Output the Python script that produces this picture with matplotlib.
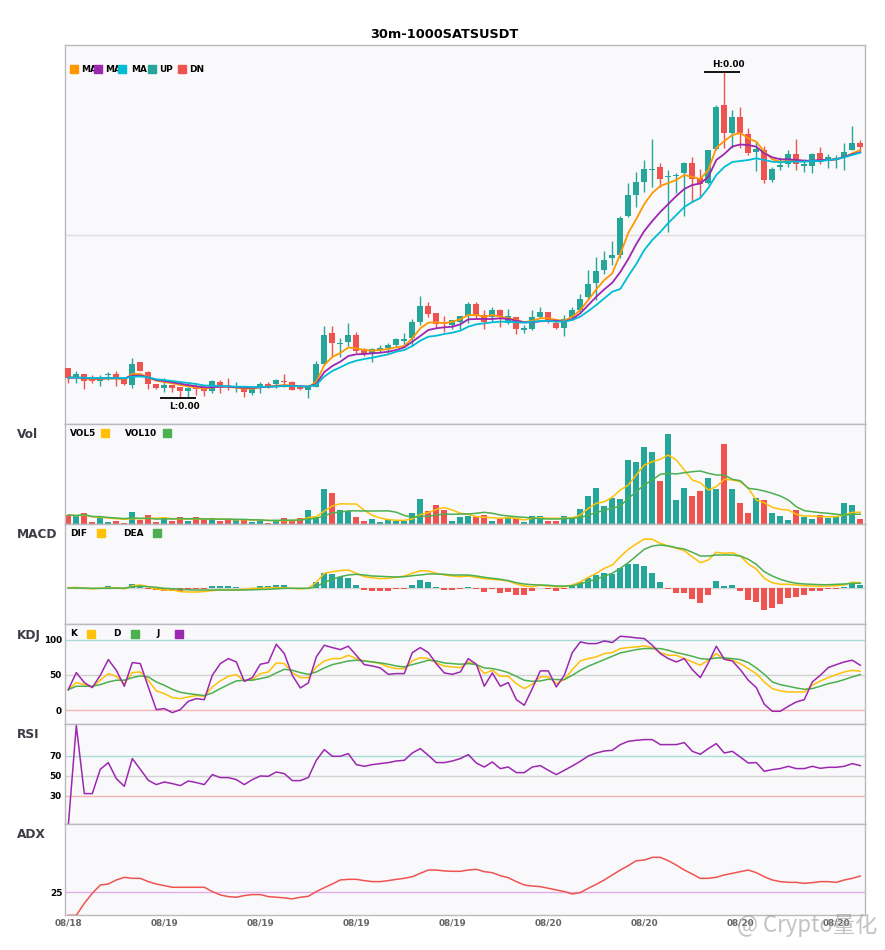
import numpy as np
import matplotlib
matplotlib.use("Agg")
import matplotlib.pyplot as plt
from matplotlib.patches import Rectangle

# ---------------------------------------------------------------------------
# values (price in 1e-6 USDT, volume / indicators in chart units)
title = "30m-1000SATSUSDT"
time_labels = ["08/18", "08/19", "08/19", "08/19", "08/19", "08/20", "08/20", "08/20", "08/20"]
label_step = 12

opens = [56, 46.3, 50, 44.7, 42.7, 49.3, 50, 44.7, 39.3, 62,
         52, 40, 36.3, 39, 37, 33.3, 38, 36.7, 33.3, 42,
         39, 36.7, 36.3, 30.7, 36.3, 39.7, 40, 43.3, 42, 38,
         34, 37.3, 60, 91, 79.7, 82.3, 89, 74.7, 70.7, 74,
         75.7, 79.3, 83.3, 86.3, 102, 118.3, 111.3, 101.3, 99, 102.3,
         108, 120, 109, 107.3, 114, 100.7, 106.7, 94, 95, 106.7,
         112, 101.3, 95.7, 106.7, 114, 127.3, 141.3, 154, 166.3, 169,
         208, 229, 242, 254, 257, 246.7, 247.7, 251.3, 261.3, 245.7,
         241.3, 274.7, 319, 291.3, 307.3, 290, 272.3, 274, 244, 257.3,
         259.7, 270, 258, 258.3, 271.3, 263, 265.3, 267.3, 274, 281.3]
closes = [46.3, 50, 42.7, 42.7, 46.7, 50, 44.7, 40.3, 60, 53.3,
          40.3, 36.3, 39, 36.3, 33.3, 36.3, 35.3, 33.3, 43.3, 37.3,
          37.3, 38, 31.7, 35.3, 39.7, 38.3, 44, 42.3, 34, 35,
          37.7, 60, 89, 81.3, 81, 89, 73, 70, 74.7, 75.7,
          79, 85, 84.7, 102, 118.3, 109.7, 100, 99.7, 104, 108.3,
          120, 108, 102.3, 114, 106.7, 108, 95, 96, 106.7, 112,
          102.3, 95.7, 104.7, 114, 125, 140, 153, 164, 169, 206.3,
          229, 242, 255, 255.3, 245.3, 248, 249, 261.3, 245.3, 240,
          274, 317.3, 290.7, 307.3, 291.3, 270.7, 275, 244, 255, 259,
          270, 259.7, 259.7, 270, 262.3, 266.7, 266.3, 272.3, 281.3, 277.3]
highs = [56, 53, 50, 48.7, 48.7, 51.7, 53, 44.7, 66, 62,
         53, 40, 45.7, 39, 37, 37.3, 39, 39, 44, 44,
         45.7, 42, 38, 37.3, 41.7, 42.3, 45.3, 49.7, 43.3, 39,
         39, 63.3, 98.3, 98, 85.7, 101.3, 92, 76.3, 75.7, 78.7,
         81.3, 86.3, 91.3, 104.7, 128, 122, 111.3, 108, 104, 108.3,
         122.3, 121.7, 114, 116.7, 115, 115, 107.3, 99, 114, 117,
         112, 104.7, 109, 117.3, 130, 154, 167, 173.3, 183.3, 208,
         240.7, 252, 264, 285, 260.7, 254, 251.3, 262.3, 266.7, 255,
         274, 319, 352.3, 314, 317.3, 295.7, 282.3, 278, 257.3, 266.7,
         274, 285, 264.7, 271.3, 277.3, 270, 269, 281.3, 298, 284]
lows = [41.3, 41.3, 35.3, 41.3, 38, 44, 38, 39, 36.3, 53,
        35.3, 35.3, 32.3, 32.3, 26.3, 26.3, 29.3, 28.3, 30.7, 30.7,
        34, 32.3, 26.7, 28.7, 30.7, 35.7, 35.7, 37.3, 34, 34,
        26.3, 36.7, 59, 68, 67.3, 78, 70.7, 68, 62.3, 70.7,
        71.3, 77.3, 77.3, 78, 99, 107.3, 95.7, 92.3, 94.7, 94,
        100.7, 105.7, 95, 101.7, 97.3, 100, 90, 91.3, 94, 105.7,
        101, 94.7, 88.3, 104, 112.3, 124, 124, 150, 159, 166,
        207.3, 217.3, 232.3, 237.3, 237.3, 192.3, 230.7, 208, 222.3, 225.7,
        240, 274, 275.7, 275.7, 275.7, 269, 253, 240.7, 241.7, 254,
        256.7, 254, 252.3, 251.3, 260, 255.7, 256.3, 254, 274, 273.3]

ma5 = [46.3, 46.5, 45.7, 44.7, 45, 45.5, 45.5, 44.7, 50, 50,
       46.7, 43.3, 42, 40.7, 39, 37.7, 36.5, 35.3, 36.7, 37.3,
       37.3, 36.3, 35.3, 35.3, 36.7, 37.3, 38.3, 39, 38.3, 37.7,
       37.3, 42, 59, 67, 71, 76.5, 75.7, 74, 73.3, 74,
       75, 76.7, 78, 85.7, 95.7, 101.3, 101.7, 100.7, 102.3, 104.7,
       109, 109, 107.3, 109, 107.3, 105.7, 104, 101.7, 103.3, 105.7,
       105.7, 104, 103.3, 107.3, 114, 124, 134.7, 144, 150.7, 170,
       191, 205, 220, 231, 238, 241, 244, 249, 247, 245,
       254, 276, 283, 289, 291, 285.7, 282.3, 272.3, 264.7, 262.3,
       263, 264, 263, 263, 264, 264, 264.7, 266.7, 270.7, 274]
ma10 = [46.3, 46.5, 46, 45.5, 45.5, 45.7, 45.7, 45.5, 48.3, 48.5,
        46.7, 44, 43, 41.7, 40.3, 39, 37.7, 36.7, 36.7, 37.3,
        37.3, 36.8, 36.3, 36.3, 36.7, 37.3, 37.7, 38.3, 38, 37.7,
        37.3, 40, 52, 58, 62.3, 68, 69.7, 70, 70.7, 71.3,
        72.3, 74, 76.7, 82.3, 88, 94, 95.7, 96.7, 97.3, 99.7,
        104.7, 105, 105, 105, 105.7, 105, 103.3, 101.7, 101.7, 102.7,
        103.3, 103.3, 102.3, 105, 110.7, 119, 127.3, 134.7, 141.3, 152,
        165, 180, 193, 203, 212, 220, 228, 235, 239, 240.5,
        247, 264, 270, 277.5, 279.5, 279, 277.3, 270.7, 266.7, 264.7,
        264.7, 264, 263.3, 263.3, 264, 264, 264.7, 267.3, 269.7, 271.7]
ma20 = [46.3, 46.5, 46.3, 46, 46, 46, 46, 45.8, 47.3, 47.5,
        46.7, 44.7, 44, 43, 42, 41, 40, 38.5, 38.3, 38,
        37.8, 37.3, 37.3, 37, 37, 37.3, 37.5, 38, 38, 37.7,
        37.5, 39, 47.5, 53, 56.7, 60.7, 63.3, 65, 66.3, 68,
        69.7, 72.3, 74, 78, 83.3, 87.3, 88.3, 90, 91.3, 93.3,
        97.3, 99.7, 100.7, 101.7, 102.3, 102.3, 101.7, 101.3, 102.3, 103,
        103, 102.3, 102.3, 104, 107.3, 113, 119, 125.7, 132.3, 135,
        148, 160, 174, 184, 192, 201, 209, 217, 222, 226,
        236, 249, 257, 262, 263, 264, 265.7, 264, 262.3, 261.7,
        262.3, 262.3, 262.3, 263, 262.7, 264, 264.7, 266.7, 269, 271.3]

volume = [9.3, 8.3, 11.3, 2.3, 7.3, 2.3, 3.3, 1.3, 12.3, 4.3,
          9.3, 2.3, 5.3, 3.3, 7.3, 3.3, 7.3, 5.3, 5.3, 3.3,
          4.3, 5.3, 4.3, 2.3, 4.3, 1.3, 3.3, 6.3, 3.3, 6.3,
          14.3, 7.3, 35.3, 31.3, 14.3, 13.3, 7.3, 3.3, 5.3, 2.3,
          5.3, 3.3, 3.3, 11.3, 25.3, 13.3, 19.3, 14.3, 3.3, 7.3,
          8.3, 7.3, 9.3, 3.3, 5.3, 7.3, 6.3, 2.3, 8.3, 8.3,
          3.3, 3.3, 8.3, 6.3, 15.3, 28.3, 36.3, 18.3, 26.3, 25.3,
          64.3, 62.3, 77.3, 72.3, 43.3, 90.3, 24.3, 36.3, 28.3, 33.3,
          46.3, 35.3, 80.3, 35.3, 21.3, 11.3, 26.3, 24.3, 11.3, 8.3,
          4.3, 14.3, 7.3, 5.3, 9.3, 6.3, 8.3, 21.3, 19.3, 5.3]
vol5 = [9.3, 8.6, 9.3, 7.5, 7, 6.3, 5.6, 5, 5.7, 5.5,
        6, 6, 6.6, 5.5, 5.5, 5.2, 5.5, 5.3, 5.5, 5.2,
        5, 4.5, 4.6, 4.3, 4.2, 3.8, 3.6, 3.6, 3.7, 4.5,
        6.7, 7.6, 13.2, 18.3, 20.5, 20.3, 20.3, 14, 9, 6.3,
        4.7, 4, 4, 5.3, 9.7, 11.7, 14.9, 16.7, 14.3, 11,
        10, 7.6, 7, 6.6, 6, 6.6, 6, 4.3, 6, 6.6,
        6, 6, 6, 6.6, 9.3, 16, 21, 22.6, 27, 34.3,
        39.3, 49.3, 59.3, 62.6, 65, 69.3, 64.3, 54.3, 44.3, 41.6,
        34.3, 37.6, 45, 44.3, 42.6, 36, 24.3, 21.6, 17, 15,
        14.3, 10, 8.3, 8.3, 7.6, 7.6, 7.6, 9.3, 12, 12]
vol10 = [9.3, 8.8, 9.6, 7.8, 7.7, 6.8, 6.3, 5.7, 6.3, 6,
         6, 5.2, 5.5, 5.3, 5.8, 5.4, 5.7, 5.3, 5.4, 5.1,
         5.2, 5, 4.9, 4.5, 4.4, 3.9, 3.9, 4.2, 4.1, 4.3,
         5.3, 5.9, 8.7, 11.3, 12.3, 13.4, 13.5, 13.3, 13.3, 13.4,
         13.4, 12.1, 8.9, 6.9, 8, 8, 9.2, 10.3, 10, 10.3,
         10.3, 11, 12, 11, 9.3, 8.3, 7.6, 7, 6.3, 5.6,
         5.3, 5.3, 5.6, 6, 6.6, 9.3, 11.6, 14.3, 16, 18.3,
         26, 32.6, 39.3, 44.3, 50, 51, 50.3, 51.6, 52.6, 53.3,
         51, 49.3, 49.3, 45, 43.6, 36, 35, 33.3, 31, 28.3,
         24.3, 17.6, 13.6, 12.6, 11.6, 11, 10, 9.3, 10, 10]

macd_hist = [0.2, 0.3, 0, -0.3, 0.3, 2.3, 1.3, 0.2, 4.3, 3.3,
             -0.5, -2, -2.3, -2.3, -2.3, -1, -1, -1, 2.3, 2.3,
             2.3, 1.3, 0.3, 0.3, 2.3, 2.3, 3.3, 3.3, 0.3, 0.2,
             0.3, 6.3, 15.3, 14.3, 11.3, 10.3, 3.3, -2, -2.3, -2.3,
             -2.3, -1, -1, 3.3, 8.3, 6.3, 1.3, -1.7, -2, -1,
             1.3, -1, -3.3, -1, -4.3, -3.7, -6.3, -6.3, -2.3, 0.2,
             -1, -2.3, -0.7, 2.3, 6.3, 10.3, 13.3, 15.3, 14.3, 20.3,
             24.3, 24.3, 22.3, 15.3, 6.3, -0.7, -4.3, -4.3, -10.3, -14.3,
             -6.3, 7.3, 2.3, 3.3, -2.3, -11.3, -13.3, -21.3, -19.3, -15.3,
             -9.3, -8.3, -6.3, -2.3, -2.3, -0.7, -0.7, 1.3, 4.3, 3.3]
dif = [0.6, 0.9, 0, -0.6, 0, 0.6, 0.6, -0.6, 2.6, 3.3,
       1.6, -0.6, -1.7, -1.7, -3.3, -3.7, -3.7, -3.3, -2.3, -1.7,
       -1.7, -1.7, -1, 0, 0, 0.6, 0.6, 0.6, 0, -0.6,
       0, 6, 15, 16.6, 17.6, 18.3, 15, 11.6, 10.6, 9.6,
       10, 11, 12.3, 15, 17.6, 17.3, 15, 13.3, 12.3, 11.6,
       12.3, 11, 9.6, 9, 8.3, 7.3, 4.3, 2.3, 1.6, 3,
       2.3, 1.6, 1.6, 3.3, 6.3, 11, 15, 20, 23.3, 31.6,
       39, 44.3, 49.3, 49, 45, 42.3, 40, 37.6, 31.6, 25.6,
       28.3, 36, 35, 35.6, 32.3, 24.3, 19.3, 10, 5.6, 4,
       4, 3.3, 2.6, 2.3, 2, 2.3, 2.6, 3.3, 6, 5.6]
dea = [0.3, 0.3, 0.2, 0, 0, 0, 0.2, 0.2, 1.5, 2.2,
       1.6, 1, 0, -0.5, -1, -1.5, -1.7, -1.7, -1.7, -1.7,
       -1.7, -1.7, -1.7, -1.5, -1.2, -1, -0.5, 0, 0, 0,
       0, 1.6, 6, 9, 11.6, 13.3, 14, 13.3, 12.3, 12,
       11.6, 11.3, 11.6, 12.6, 13.3, 14.3, 14.3, 14, 13.3, 13.3,
       13.3, 12.3, 11, 10, 9, 7.6, 5.6, 4.3, 3.6, 3.3,
       3, 2.3, 2.3, 2.6, 4.3, 7, 9, 12.3, 15, 20,
       25.6, 32.3, 39, 42.3, 43.3, 42.3, 40.6, 39.3, 36, 32.3,
       32.3, 33.3, 33.3, 33.3, 32.3, 29, 24, 16.6, 12.3, 9,
       6.6, 5, 4.3, 4, 3.6, 3.6, 4, 4.3, 5, 5]

k_line = [29.2, 39.2, 36.3, 33, 42.5, 51.9, 48.1, 37.7, 53.3, 54.2,
          42.5, 27.4, 23.6, 17.9, 16.5, 18.9, 20.8, 19.8, 33, 41.5,
          48.1, 50.5, 41.5, 43.4, 51.9, 54.2, 67, 66, 53.3, 46.2,
          46.2, 61.3, 69.8, 73.1, 73.1, 77.8, 73.1, 69.8, 68.4, 66,
          61.3, 59, 59, 69.8, 74.5, 73.1, 67, 62.7, 61.3, 60.4,
          68.4, 65.1, 51.9, 56.6, 48.1, 48.1, 37.7, 30.7, 36.8, 47.2,
          47.2, 37.7, 43.4, 57.5, 69.8, 73.1, 75.5, 80.2, 81.6, 87.3,
          88.7, 89.6, 91, 88.7, 81.6, 77.8, 77.8, 73.1, 68.4, 63.7,
          70.8, 80.2, 72.2, 70.8, 66, 59, 51.9, 40.1, 30.7, 27.4,
          25.9, 25.9, 25.9, 35.4, 41.5, 46.2, 50.5, 54.2, 56.6, 55.2]
d_line = [29.2, 34, 34, 34, 36.3, 40.1, 42.5, 42.5, 46.2, 48.6,
          47.2, 40.1, 35.4, 29.7, 25.5, 23.6, 22.2, 20.8, 24.5, 30.7,
          36.3, 41.5, 42.5, 42.5, 44.8, 47.2, 52.8, 58, 56.6, 53.3,
          50.9, 54.2, 59.9, 64.6, 67, 69.8, 70.8, 69.8, 68.4, 67,
          65.1, 62.7, 61.3, 64.6, 67.5, 70.8, 69.8, 67, 66, 65.1,
          66, 64.6, 59.9, 59, 56.6, 53.3, 48.1, 42.5, 41, 41.5,
          43.9, 43.4, 43.4, 49.5, 56.6, 62.3, 67, 71.7, 76.4, 81.1,
          83.5, 85.8, 87.3, 87.3, 87.3, 84.9, 81.6, 79.2, 76.4, 73.1,
          72.2, 74.1, 74.1, 73.1, 71.7, 67.5, 59.9, 50.9, 40.1, 36.3,
          34, 31.6, 29.7, 30.7, 34, 37.7, 40.1, 43.4, 47.2, 50.5]
j_line = [29.2, 53.3, 39.2, 32.1, 49.5, 71.7, 56.6, 34, 67.5, 66,
          33, 0.9, 2.4, -3.3, 0.9, 12.7, 16.5, 15.1, 49.5, 66,
          73.1, 68.4, 41, 46.2, 65.1, 67.5, 93.4, 80.2, 49.5, 31.6,
          38.7, 75.5, 92, 88.7, 85.8, 90.6, 77.8, 64.6, 62.7, 59.9,
          50.9, 51.9, 51.9, 81.6, 88.7, 81.6, 66, 52.8, 50.9, 54.2,
          73.1, 65.1, 34, 52.8, 34, 39.2, 15.1, 7.1, 30.7, 55.7,
          55.7, 33, 49.5, 81.6, 96.7, 94.3, 94.3, 98.1, 95.8, 104.7,
          103.8, 102.4, 101.4, 92, 80.2, 73.1, 68.4, 73.1, 57.5, 46.2,
          67, 90.6, 72.2, 69.8, 57.5, 42.5, 32.1, 8.5, -1.4, -1.4,
          5.7, 11.8, 15.1, 40.1, 49.5, 60.4, 64.6, 68.4, 70.8, 63.7]

rsi = [0, 100, 32, 32, 56.3, 63, 47, 39.3, 67, 56.3,
       45.3, 41, 43.6, 42, 40, 44.6, 43, 41, 51, 48,
       48, 46, 41, 46, 49.6, 49.3, 53.6, 52, 45, 45,
       48, 65.3, 76, 69.3, 69.3, 72, 61, 59.3, 61, 62,
       63, 64.6, 65.3, 72.6, 77, 70.3, 63, 63, 64.6, 67,
       71, 62.6, 58.6, 63.6, 57, 58.6, 53, 53, 58.6, 60,
       55.3, 51, 55.3, 59.6, 64.3, 69.6, 72.6, 74.6, 75.3, 81,
       84.3, 85.3, 86, 86, 81, 81, 81, 83, 74.3, 71.3,
       77, 82, 72.6, 74.3, 68.6, 62.6, 63, 54.3, 56, 57,
       59.3, 57, 57, 59.3, 57.3, 58.3, 58.3, 59.3, 62, 60]

adx = [0, 0, 13.1, 24.1, 33.2, 34.3, 38.7, 41.6, 40.5, 40.5,
       36.9, 34.3, 32.5, 30.7, 30.7, 30.7, 30.7, 30.7, 26, 22.3,
       20.5, 19.8, 21.6, 22.7, 22.7, 20.5, 19.8, 19.1, 18, 19.8,
       20.8, 26, 30.3, 34.3, 38.7, 39.4, 39.4, 38, 36.9, 36.9,
       38, 39.4, 40.5, 42.3, 46, 49.6, 49.6, 48.6, 48.2, 48.2,
       49.6, 50.4, 47.8, 46.7, 43.4, 41.2, 36.9, 33.2, 32.1, 31.4,
       29.6, 27.8, 26, 23.4, 24.9, 29.6, 34, 38.7, 44.2, 49.6,
       54.4, 59.8, 60.5, 63.5, 63.5, 59.8, 55, 49.6, 45.2, 40.5,
       40.5, 41.6, 44.2, 46, 47.8, 49.6, 46.7, 42.3, 38.7, 36.9,
       36.1, 36.1, 35, 35.8, 36.9, 36.9, 36.1, 38.7, 40.5, 43]

# ---------------------------------------------------------------------------
UP, DN = "#26a69a", "#ef5350"
C_MA5, C_MA10, C_MA20 = "#ff9800", "#9c27b0", "#00bcd4"
C_Y, C_G, C_P = "#ffc107", "#4caf50", "#9c27b0"
BG = "#f9f9fb"
W, H = 885, 950

o = np.array(opens); c = np.array(closes)
hi = np.array(highs); lo = np.array(lows)
x = np.arange(len(o))
up = c >= o
candle_col = np.where(up, UP, DN)


def box(top, bottom):
    return [65.3 / W, 1 - bottom / H, 800 / W, (bottom - top) / H]


def fx(px):
    return px / W


def fy(py):
    return 1 - py / H


fig = plt.figure(figsize=(W / 100, H / 100), dpi=100)
ax_main = fig.add_axes(box(45, 424.3))
ax_vol = fig.add_axes(box(424.3, 524.3), sharex=ax_main)
ax_macd = fig.add_axes(box(524.3, 624.3), sharex=ax_main)
ax_kdj = fig.add_axes(box(624.3, 724.3), sharex=ax_main)
ax_rsi = fig.add_axes(box(724.3, 824.3), sharex=ax_main)
ax_adx = fig.add_axes(box(824.3, 915.3), sharex=ax_main)
axes = [ax_main, ax_vol, ax_macd, ax_kdj, ax_rsi, ax_adx]

for ax in axes:
    ax.set_facecolor(BG)
    for s in ax.spines.values():
        s.set_color("#b9b9bf")
        s.set_linewidth(1)
    ax.tick_params(length=0, labelbottom=False, labelleft=False)
    ax.set_xticks([])
    ax.set_yticks([])
ax_main.set_xlim(-0.375, len(o) - 0.375)

# ---- main: candles + MAs
ax_main.set_ylim(-0.3, 379)
ax_main.axhline(sum(ax_main.get_ylim()) / 2, color="#dedede", lw=1, zorder=0)
ax_main.vlines(x, lo, hi, colors=candle_col, lw=1, zorder=2)
body = np.maximum(np.abs(c - o), 0.9)
ax_main.bar(x, body, bottom=np.minimum(o, c), width=0.75, color=candle_col,
            linewidth=0, zorder=3)
ax_main.plot(x, ma5, color=C_MA5, lw=1.3, zorder=4)
ax_main.plot(x, ma10, color=C_MA10, lw=1.3, zorder=4)
ax_main.plot(x, ma20, color=C_MA20, lw=1.3, zorder=4)

ih = int(np.argmax(hi)); il = int(np.argmin(lo))
ax_main.hlines(hi[ih], ih - 2.5, ih + 2, color="black", lw=1.3, zorder=5)
ax_main.annotate(f"H:{hi[ih] * 1e-6:.2f}", xy=(ih + 0.5, hi[ih]), xytext=(0, 5),
                 textcoords="offset points", ha="center", va="center",
                 fontsize=6.4, fontweight="bold")
ax_main.hlines(lo[il] - 0.6, il - 2.5, il + 2, color="black", lw=1.3, zorder=5)
ax_main.annotate(f"L:{lo[il] * 1e-6:.2f}", xy=(il + 0.5, lo[il]), xytext=(0, -6.6),
                 textcoords="offset points", ha="center", va="center",
                 fontsize=6.4, fontweight="bold")

# ---- volume
ax_vol.set_ylim(0, 100)
ax_vol.bar(x, volume, width=0.75, color=candle_col, linewidth=0, zorder=2)
ax_vol.plot(x, vol5, color=C_Y, lw=1.1, zorder=3)
ax_vol.plot(x, vol10, color=C_G, lw=1.1, zorder=3)

# ---- MACD
hist = np.array(macd_hist)
ax_macd.set_ylim(-36, 64)
ax_macd.axhline(0, color="#d6d6d6", lw=1, zorder=1)
ax_macd.bar(x, hist, width=0.75, color=np.where(hist >= 0, UP, DN), linewidth=0, zorder=2)
ax_macd.plot(x, dif, color=C_Y, lw=1.1, zorder=3)
ax_macd.plot(x, dea, color=C_G, lw=1.1, zorder=3)

# ---- KDJ
ax_kdj.set_ylim(-19.8, 121.6)
ax_kdj.axhline(100, color="#a9dcd6", lw=1, zorder=1)
ax_kdj.axhline(50, color="#d2d2d2", lw=1, zorder=1)
ax_kdj.axhline(0, color="#f6b3b3", lw=1, zorder=1)
ax_kdj.plot(x, k_line, color=C_Y, lw=1.1, zorder=3)
ax_kdj.plot(x, d_line, color=C_G, lw=1.1, zorder=3)
ax_kdj.plot(x, j_line, color=C_P, lw=1.1, zorder=3)
ax_kdj.set_yticks([0, 50, 100])

# ---- RSI
ax_rsi.set_ylim(1.3, 101.3)
ax_rsi.axhline(70, color="#a9dcd6", lw=1, zorder=1)
ax_rsi.axhline(50, color="#d2d2d2", lw=1, zorder=1)
ax_rsi.axhline(30, color="#f6b3b3", lw=1, zorder=1)
ax_rsi.plot(x, rsi, color=C_P, lw=1.1, zorder=3)
ax_rsi.set_yticks([30, 50, 70])

# ---- ADX
ax_adx.set_ylim(0, 99.7)
ax_adx.axhline(25, color="#e2aee9", lw=1, zorder=1)
ax_adx.plot(x, adx, color=DN, lw=1.1, zorder=3)
ax_adx.set_yticks([25])

for ax in (ax_kdj, ax_rsi, ax_adx):
    ax.tick_params(labelleft=True, pad=2.5)
    for t in ax.get_yticklabels():
        t.set_fontsize(6.4)
        t.set_fontweight("bold")

ticks = np.arange(0, len(o), label_step)
ax_adx.set_xticks(ticks)
ax_adx.set_xticklabels(time_labels, fontsize=6.4, fontweight="bold", color="#666666")
ax_adx.tick_params(labelbottom=True, pad=2)

# ---- title, panel names and legends
fig.text(fx(444.3), fy(34.5), title, ha="center", va="center", fontsize=9.3, fontweight="bold")
for name, py in [("Vol", 435), ("MACD", 535), ("KDJ", 635), ("RSI", 735), ("ADX", 835)]:
    fig.text(fx(17), fy(py), name, ha="left", va="center", fontsize=8.7,
             fontweight="bold", color="#3c3c46")


def legend(items, py, size=8):
    for label, tx, color, sx in items:
        if label:
            fig.text(fx(tx), fy(py), label, ha="left", va="center", fontsize=6.4,
                     fontweight="bold", zorder=5)
        if color:
            fig.add_artist(Rectangle((fx(sx), fy(py + size / 2)), size / W, size / H,
                                     transform=fig.transFigure, color=color, zorder=6))


legend([("MA", 81, C_MA5, 70), ("MA", 105, C_MA10, 94), ("MA", 131, C_MA20, 118),
        ("UP", 159.5, UP, 148), ("DN", 189, DN, 177.7)], 69.2)
legend([("VOL5", 70, C_Y, 101), ("VOL10", 125, C_G, 163)], 433.3)
legend([("DIF", 70, C_Y, 97), ("DEA", 123.3, C_G, 153)], 533.3)
legend([("K", 70, C_Y, 87), ("D", 113, C_G, 131), ("J", 156.7, C_P, 175)], 633.5)

# watermark
fig.text(fx(737), fy(925), "@ Crypto量化", ha="left", va="center", fontsize=16,
         color="#9a9a9a", alpha=0.6, family=["Noto Sans CJK SC", "DejaVu Sans"])

fig.savefig("out.png", dpi=100)
